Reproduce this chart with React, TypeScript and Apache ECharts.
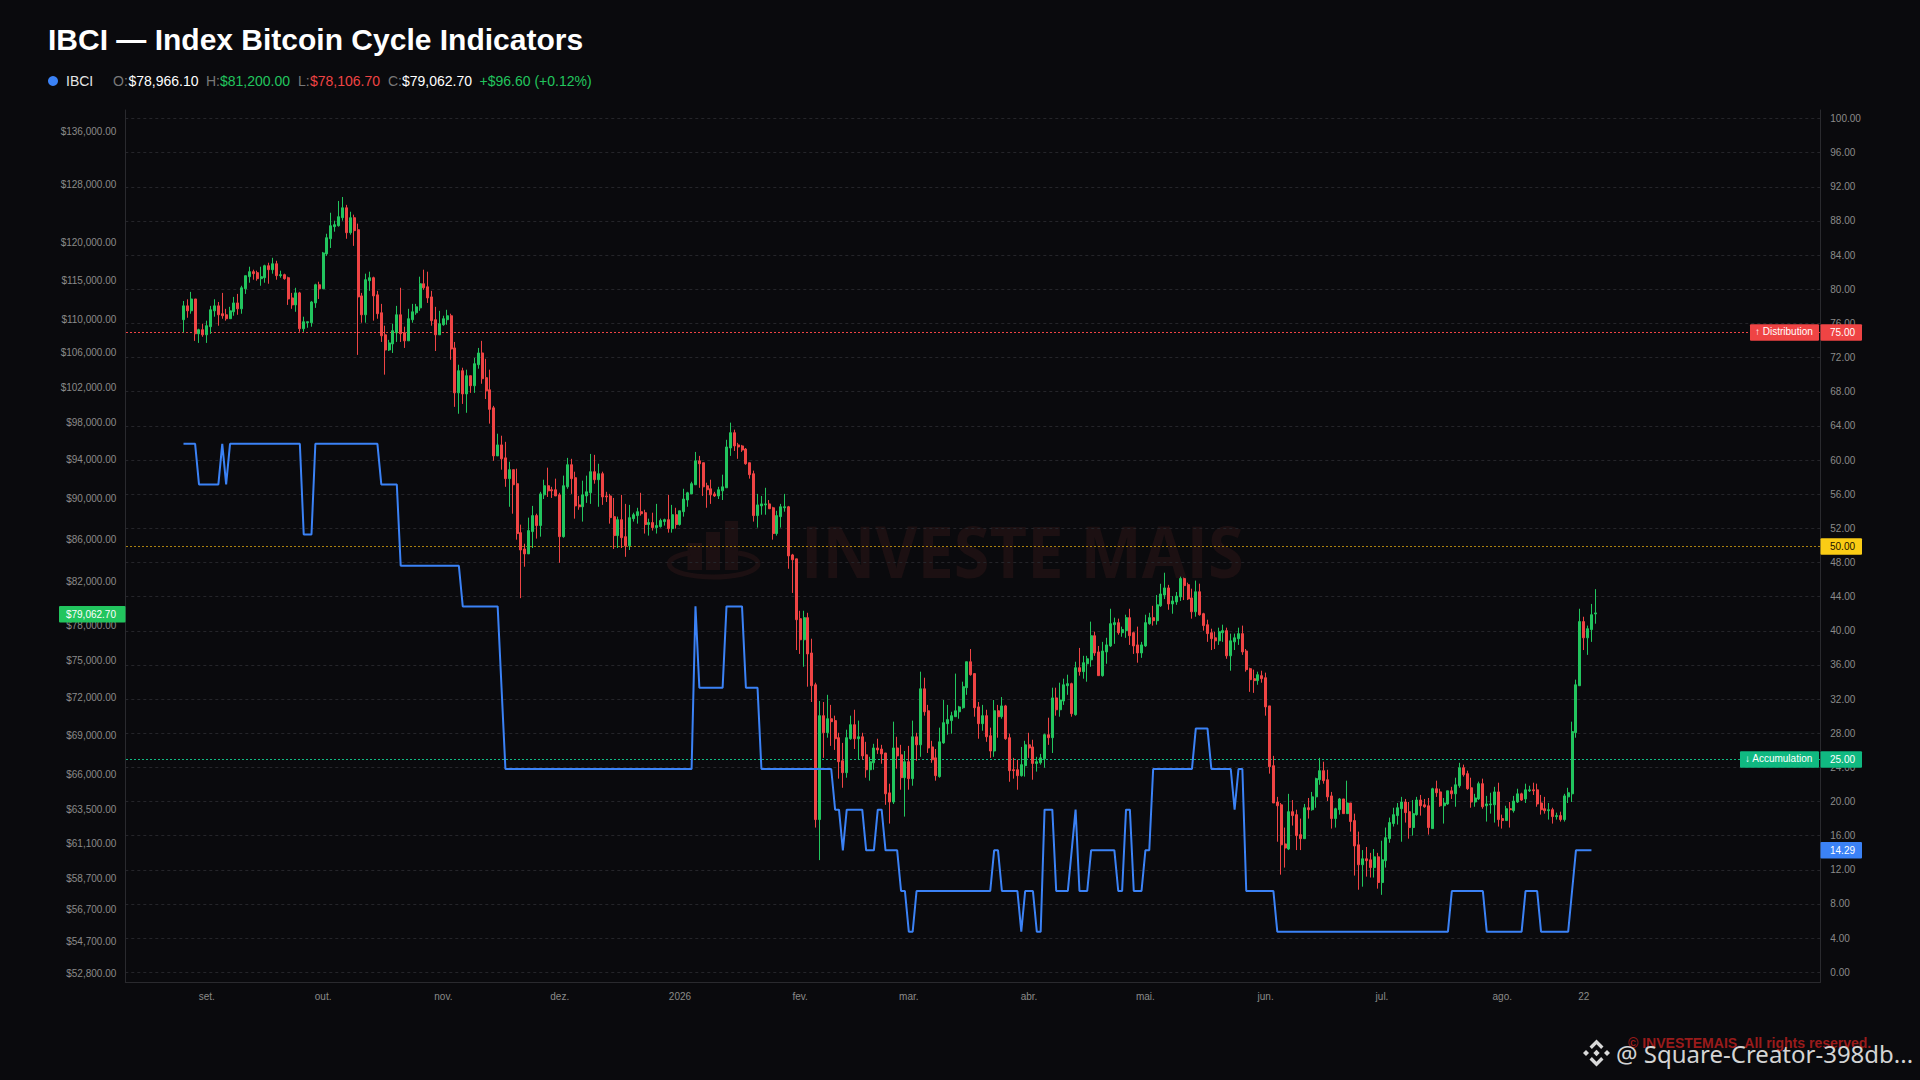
import React, { useEffect, useRef } from "react";
import * as echarts from "echarts";

const FONT = "'Liberation Sans', Arial, sans-serif";
const BG = "#0a0a0d";
const GREEN = "#22c55e";
const RED = "#ef4444";
const BLUE = "#3b82f6";
const TEAL = "#10b981";
const YELLOW = "#facc15";

const priceTicks = [136000,128000,120000,115000,110000,106000,102000,98000,94000,90000,86000,82000,78000,75000,72000,69000,66000,63500,61100,58700,56700,54700,52800];
const indexTicks = [0,4,8,12,16,20,24,28,32,36,40,44,48,52,56,60,64,68,72,76,80,84,88,92,96,100];
const dateLabels: Record<string,string> = {
  "2025-09-01":"set.","2025-10-01":"out.","2025-11-01":"nov.","2025-12-01":"dez.","2026-01-01":"2026","2026-02-01":"fev.","2026-03-01":"mar.","2026-04-01":"abr.","2026-05-01":"mai.","2026-06-01":"jun.","2026-07-01":"jul.","2026-08-01":"ago.","2026-08-22":"22",
};
const firstDate = "2025-08-11";
const categoryCount = 438;
const leadingEmptyDays = 15;
const lastPrice = 79062.7;
const lastIndex = 14.29;
const thresholds = [
  { value: 75, color: RED, line: "#ef4444", tag: "↑ Distribution", tagColor: RED, text: "#ffffff", tagWidth: 69 },
  { value: 50, color: YELLOW, line: "#a9800f", tag: "", tagColor: "", text: "#1a1300", tagWidth: 0 },
  { value: 25, color: TEAL, line: "#10b981", tag: "↓ Accumulation", tagColor: TEAL, text: "#ffffff", tagWidth: 79 },
];

// [open, close, low, high]
const candles: number[][] = [
[109900,111620,108340,112235],[111620,111005,110140,112445],[111005,112490,110640,113390],[112490,108180,107315,112490],[108180,108670,107070,108790],
[108670,108050,107810,109410],[108050,109160,107070,109780],[109040,111130,108180,111620],[111000,111620,110270,112450],[111620,110510,109160,112110],
[110640,110390,110020,113260],[110510,110020,109780,111250],[110020,111000,110020,111500],[110880,111990,110390,112750],[111990,111250,110510,113130],
[111250,113910,110640,114170],[113780,115470,113130,115470],[115340,115990,114560,116640],[115990,115730,114950,116250],[115860,115080,114820,116120],
[115080,115340,114170,116640],[115210,116770,114560,116900],[116770,116250,114430,117160],[116250,117030,115730,117810],[117030,115470,114950,117420],
[115470,115600,115210,116120],[115600,115080,114950,115730],[115210,112490,111740,115340],[112620,111740,111250,113260],[111740,113260,110880,113910],
[113260,108790,108420,113390],[108790,109650,108420,110270],[109530,109650,108910,109650],[109530,112110,109040,112240],[111990,114300,111370,114430],
[114300,113780,112490,114690],[113780,118460,113780,118590],[118330,120500,118070,121040],[120360,122140,119120,123930],[122010,122280,121320,122830],
[122140,123380,122010,125580],[123240,124620,122830,126140],[124620,121180,120360,125030],[121180,123240,120910,124070],[123240,121460,119400,123660],
[121590,112750,105640,122420],[112880,110510,109530,113260],[110510,114950,109530,115730],[114820,115210,113520,115990],[115210,112880,109780,115340],
[113010,110640,110020,113520],[110760,107930,107190,111870],[108050,106220,103320,109160],[106220,107070,106100,107440],[106950,108550,105870,109410],
[108300,110510,107190,111620],[110510,108180,107190,113910],[108300,107320,106470,109040],[107320,110020,107320,111250],[109900,110880,109530,111870],
[110760,111500,110510,111870],[111370,114430,111000,115340],[114430,113910,113650,116250],[114040,112620,111990,115990],[112750,109780,109160,113520],
[109900,108050,106100,111500],[108050,109410,108050,111000],[109280,110020,109160,110390],[109900,110390,109280,111130],[110390,106340,105060,110640],
[106470,101230,99650,107190],[101230,103780,98880,104480],[103780,101110,99980,104130],[101110,103200,98990,103900],[103200,102040,101230,103200],
[102040,104600,101230,105290],[104480,105870,104010,106470],[105870,102850,102270,107320],[102970,101460,100530,105180],[101580,99370,97790,103900],
[99540,94310,93790,99760],[94310,95480,94310,96690],[95480,94000,92860,96470],[94100,91930,91090,95810],[91930,92860,89070,93690],
[92860,91300,88380,92860],[91410,86430,85840,92960],[86520,84850,80380,87300],[84950,84480,83270,85450],[84480,86720,84480,87990],
[86620,88190,85040,89160],[88190,87210,85940,88380],[87210,90370,86130,90580],[90270,91200,89850,91820],[91200,90680,90060,93070],
[90790,90680,89960,91090],[90790,90160,90160,91930],[90270,86130,83640,90480],[86130,91200,86030,92240],[91090,93380,90890,94100],
[93380,91930,90370,94000],[92030,89160,87890,92650],[89260,89070,88770,90160],[89070,90270,87600,91720],[90160,90580,89460,92240],
[90480,92650,89360,94520],[92650,91820,91410,94420],[91820,92440,89070,93480],[92440,90060,89260,92650],[90160,90060,89550,90580],
[90160,87990,87400,90370],[88090,86230,84950,89960],[86230,87790,85040,88090],[87790,86030,85040,90270],[86130,85250,84200,89360],
[85250,87990,84850,89260],[87890,88280,87600,88480],[88190,88580,87400,88970],[88580,88380,88190,90480],[88480,87310,86430,88770],
[87310,87500,86230,87890],[87500,87010,86720,88480],[87010,87210,86430,89360],[87110,87700,87010,87890],[87600,87790,87210,87890],
[87790,86910,86520,90270],[86910,88280,86520,89260],[88280,87310,86910,88970],[87310,88670,87210,88670],[88580,89850,88090,90890],
[89750,90480,89070,90580],[90370,91410,90370,91610],[91300,93790,91300,94730],[93790,93480,90990,94310],[93590,91090,90160,93590],
[91200,90790,88970,91510],[90890,90270,89360,91820],[90370,90160,90060,90580],[90160,90790,89850,91090],[90680,91090,89750,92340],
[90990,95260,90990,96030],[95150,96800,94310,97900],[96800,95370,94830,97130],[95480,95260,94000,95700],[95370,94930,94730,95480],
[95040,93480,93380,95150],[93590,92340,91930,93590],[92440,88190,87600,92760],[88190,89260,87010,90370],[89160,89360,88280,90160],
[89260,89360,88280,90990],[89360,88870,88870,89750],[88970,86430,85840,89070],[86430,88190,86230,88670],[88090,89070,87010,89360],
[88970,89070,88580,90370],[89070,84290,83080,89160],[84380,83920,80850,84480],[84010,78460,75830,84010],[78550,76710,75500,79250],
[76710,78640,74420,79250],[78640,75500,72770,79070],[75580,72850,71530,76800],[72930,62680,62120,73100],[62680,70440,59890,71610],
[70440,69110,67180,71530],[69110,70200,68720,72110],[70200,69970,68090,71300],[70050,68640,67780,70440],[68720,66890,65630,69100],
[66960,66070,64960,68320],[66070,68720,65700,69340],[68640,69730,68560,70440],[69730,68640,67850,70910],[68640,68790,67040,70050],
[68790,67330,67040,69100],[67410,66290,65700,68400],[66290,66890,65480,67260],[66810,67930,66290,68250],[67930,67780,67480,68640],
[67850,67480,66740,68170],[67550,64520,63730,67550],[64590,63930,62400,65260],[63930,67930,63790,69970],[67930,67330,66370,68790],
[67410,65700,64820,68170],[65700,66890,62890,67700],[66890,65630,64820,68090],[65630,68790,65110,70050],[68790,68170,66960,69100],
[68170,72600,67260,74010],[72600,70750,70440,73510],[70830,67930,67550,71300],[68010,67040,66810,68480],[67180,65850,65480,67850],
[65780,68400,65700,69500],[68320,69890,68250,71690],[69810,70130,68950,71300],[70050,70440,69030,70750],[70360,70830,70360,73850],
[70750,71140,70200,71220],[71070,72770,70990,73180],[72690,74840,72110,74840],[74840,73760,73680,75920],[73850,71070,70360,73850],
[71140,69810,68640,71530],[69810,70440,69260,71300],[70440,68790,68400,70910],[68870,67700,67180,69500],[67700,70830,67260,71690],
[70830,70360,68720,71300],[70360,71220,70200,71930],[71220,68640,68560,71300],[68720,66220,65400,69030],[66290,66220,65630,67180],
[66290,65850,64820,67040],[65850,66670,65780,68010],[66590,68170,65780,68480],[68170,67930,67180,69100],[68010,66760,65550,68560],
[66760,66890,66150,67260],[66810,67180,66670,67480],[67110,68950,66440,69030],[68950,68720,68170,70280],[68720,71860,67550,72690],
[71860,70910,70440,72690],[70910,71690,70360,73100],[71610,72930,71300,73430],[72850,73020,72110,73760],[73020,70600,70360,73100],
[70520,74340,70440,74840],[74340,74010,73680,76010],[74010,74760,73430,75340],[74670,75090,73180,75340],[75000,77060,74420,78290],
[77060,75580,75340,77410],[75670,73680,73680,76180],[73680,75750,73600,76530],[75670,76270,74670,76880],[76180,78110,76100,79430],
[78020,78200,76360,78640],[78200,77320,77150,78550],[77320,77590,76970,77850],[77500,78640,76880,78900],[78640,77060,76270,79430],
[77320,76180,75500,77410],[76270,75580,74760,77850],[75580,76270,75170,76530],[76180,78200,76100,78900],[78110,78640,78020,79070],
[78640,78370,77940,79690],[78370,79780,78020,80660],[79690,80760,79600,81690],[80660,81310,80300,82710],[81310,79860,79340,81590],
[79860,80130,78990,80570],[80040,80570,79780,80940],[80490,82170,80130,82350],[82170,81520,80210,82260],[81610,80310,80210,81790],
[80400,79160,78550,81240],[79160,80960,78720,81980],[80960,78900,78810,81700],[78990,77940,77500,79070],[78020,77240,76530,78460],
[77320,76800,75830,77670],[76880,76620,75920,77410],[76620,77410,76270,77760],[77320,77500,76530,78020],[77500,75340,75090,77760],
[75340,76620,74090,77240],[76530,76880,75830,77240],[76800,77240,76270,77760],[77240,75670,75420,77940],[75750,74180,74010,75920],
[74260,73350,72350,74340],[73430,73270,72270,74180],[73270,73760,72930,74010],[73680,73430,73100,74090],[73510,71140,70440,73930],
[71220,66520,66000,71220],[66590,63860,63860,67330],[63930,63660,61140,64300],[63730,60930,58920,63860],[60990,60710,59390,62120],
[60640,63240,60570,64520],[63240,62960,62260,64070],[63030,61560,60570,63380],[61630,61350,60570,62750],[61350,63520,61350,63790],
[63520,63380,62750,64220],[63380,64300,63310,64660],[64300,65630,63520,65700],[65550,66220,65180,67180],[66220,65480,65260,66890],
[65550,64300,64000,66290],[64370,62750,62050,64660],[62750,63450,62120,63520],[63380,64150,63030,64220],[64150,63100,63100,64150],
[63100,63860,63100,65480],[63860,62540,61840,63860],[62610,60850,58860,63100],[60930,59580,57930,61840],[59580,59980,58130,60570],
[59980,59850,58790,60780],[59910,59390,58730,60380],[59390,60110,58730,60640],[60110,58400,58000,60380],[58400,59910,57600,61210],
[59850,61420,59390,62120],[61350,62470,61070,62820],[62400,63030,62190,63520],[62960,63520,62330,63860],[63450,63930,61140,64300],
[63930,63170,62470,64150],[63240,62120,61350,63930],[62120,63100,61560,64070],[63030,64070,62960,64300],[64070,63660,62960,64440],
[63730,63590,63520,64150],[63660,62120,61630,64220],[62050,64890,62050,64960],[64890,64600,64300,65480],[64660,63660,63590,64890],
[63660,63860,62400,64220],[63790,64740,63730,64740],[64740,64520,64150,65030],[64520,65180,63590,65700],[65110,66440,64960,66810],
[66440,65920,65780,66670],[66000,64890,64810,66220],[64960,63930,63520,65700],[63930,64220,63590,64520],[64150,65260,64070,65410],
[65260,63590,63450,65630],[63660,63790,62540,64370],[63730,63790,63100,64600],[63730,64660,62470,65030],[64660,62680,62190,65330],
[62750,62610,62050,63030],[62610,63450,62610,63660],[63450,63380,62120,63930],[63310,64000,63170,64370],[63930,64520,63860,64890],
[64520,64070,64000,64600],[64150,64810,63860,65260],[64740,64810,64660,65110],[64810,64740,64440,65330],[64810,63790,63590,65260],
[63860,63380,63030,64440],[63450,63310,63100,64300],[63310,63380,62680,63860],[63380,62890,62400,63520],[62890,62960,62680,63170],
[62960,62680,62540,63240],[62680,64370,62540,64520],[64300,64600,63860,64960],[64520,69190,63930,69970],[69110,72930,68720,73350],
[72850,78290,72850,79430],[78290,76880,75830,78720],[76880,77670,75420,77940],[77590,78900,76530,79860],[78966.1,79062.7,78106.7,81200],
];

// [level, number of consecutive days]
const indicatorRuns: number[][] = [
[61.9,4],[57.14,6],[61.9,1],[57.14,1],[61.9,19],[51.28,3],[61.9,17],[57.14,5],[47.62,16],[42.86,10],[33.33,1],[23.81,49],
[42.86,1],[33.33,7],[42.86,5],[33.33,4],[23.81,19],[19.05,2],[14.29,1],[19.05,5],[14.29,3],[19.05,2],[14.29,4],[9.52,2],[4.76,2],
[9.52,20],[14.29,2],[9.52,5],[4.76,1],[9.52,3],[4.76,2],[19.05,3],[9.52,4],[14.29,1],[19.05,1],[9.52,3],[14.29,7],[9.52,2],[19.05,2],
[9.52,3],[14.29,2],[23.81,11],[28.57,4],[23.81,6],[19.05,1],[23.81,2],[9.52,8],[4.76,45],[9.52,9],[4.76,10],[9.52,4],[4.76,8],[9.52,1],[14.29,5],
];

const legendParts = [
  { x: 113, text: "O:", color: "#787878" }, { x: 128.5, text: "$78,966.10", color: "#ffffff" },
  { x: 206, text: "H:", color: "#787878" }, { x: 220, text: "$81,200.00", color: GREEN },
  { x: 298, text: "L:", color: "#787878" }, { x: 310, text: "$78,106.70", color: RED },
  { x: 388, text: "C:", color: "#787878" }, { x: 402, text: "$79,062.70", color: "#ffffff" },
  { x: 479.5, text: "+$96.60 (+0.12%)", color: GREEN },
];

const money = (v: number) => "$" + v.toLocaleString("en-US", { minimumFractionDigits: 2, maximumFractionDigits: 2 });

function buildCategories() {
  const out: string[] = [];
  const d = new Date(firstDate + "T00:00:00Z");
  for (let i = 0; i < categoryCount; i++) {
    out.push(d.toISOString().slice(0, 10));
    d.setUTCDate(d.getUTCDate() + 1);
  }
  return out;
}

function expandRuns(runs: number[][]) {
  const out: number[] = [];
  runs.forEach(([v, n]) => { for (let i = 0; i < n; i++) out.push(v); });
  return out;
}

const WM = "#1c1012";
const LOGO = "#d9d9d9";

function staticGraphics() {
  const wmBars = [[687.5, 543, 14.5, 27], [706, 532, 14, 38], [725, 521, 13, 49]].map(([x, y, width, height]) => ({
    type: "rect", z: -1, silent: true, shape: { x, y, width, height }, style: { fill: WM },
  }));
  const cx = 1596.5, cy = 1053;
  const poly = (pts: number[][]) => ({ type: "polygon", z: 50, silent: true, shape: { points: pts.map(([a, b]) => [cx + a, cy + b]) }, style: { fill: LOGO } });
  const diamond = (a: number, b: number, r: number) => poly([[a, b - r], [a + r, b], [a, b + r], [a - r, b]]);
  return [
    { type: "text", z: 50, silent: true, x: 48, y: 39, style: { text: "IBCI — Index Bitcoin Cycle Indicators", fill: "#ffffff", font: `bold 30px ${FONT}`, verticalAlign: "middle" } },
    { type: "circle", z: 50, silent: true, shape: { cx: 53, cy: 81, r: 5 }, style: { fill: BLUE } },
    { type: "text", z: 50, silent: true, x: 66, y: 80.5, style: { text: "IBCI", fill: "#e5e5e5", font: `14px ${FONT}`, verticalAlign: "middle" } },
    ...legendParts.map((p) => ({ type: "text", z: 50, silent: true, x: p.x, y: 80.5, style: { text: p.text, fill: p.color, font: `14px ${FONT}`, verticalAlign: "middle" } })),
    ...wmBars,
    { type: "bezierCurve", z: -1, silent: true, shape: { x1: 690, y1: 553, x2: 713, y2: 577, cpx1: 656, cpy1: 558, cpx2: 664, cpy2: 577 }, style: { stroke: WM, lineWidth: 5, fill: "none" } },
    { type: "bezierCurve", z: -1, silent: true, shape: { x1: 713, y1: 577, x2: 738, y2: 553, cpx1: 762, cpy1: 577, cpx2: 772, cpy2: 558 }, style: { stroke: WM, lineWidth: 5, fill: "none" } },
    { type: "text", z: -1, silent: true, x: 801, y: 550, scaleX: 0.902, style: { text: "INVESTE MAIS", fill: WM, font: `bold 72px 'Open Sans', sans-serif`, verticalAlign: "middle" } },
    { type: "text", z: 50, silent: true, x: 1628, y: 1043, style: { text: "© INVESTEMAIS. All rights reserved.", fill: "#991b1b", font: `bold 14px ${FONT}`, verticalAlign: "middle" } },
    diamond(0, 0, 3.2), diamond(-10.5, 0, 3), diamond(10.5, 0, 3),
    poly([[0, -13.5], [7, -6.5], [4.6, -4.1], [0, -8.7], [-4.6, -4.1], [-7, -6.5]]),
    poly([[0, 13.5], [7, 6.5], [4.6, 4.1], [0, 8.7], [-4.6, 4.1], [-7, 6.5]]),
    { type: "text", z: 50, silent: true, x: 1616, y: 1053, style: { text: "@ Square-Creator-398db...", fill: "#d4d4d4", font: `24px 'Noto Sans', sans-serif`, verticalAlign: "middle" } },
  ];
}

const PILL_L = 1820.5, PILL_W = 41.5, TAG_R = 1819, PILL_H = 16.6;

function tagGraphics(chart: any) {
  const out: any[] = [];
  const pill = (y: number, color: string, label: string, fg: string) => {
    out.push({ type: "rect", z: 60, silent: true, shape: { x: PILL_L, y: y - PILL_H / 2, width: PILL_W, height: PILL_H, r: 1 }, style: { fill: color } });
    out.push({ type: "text", z: 61, silent: true, x: 1830, y, style: { text: label, fill: fg, font: `10px ${FONT}`, verticalAlign: "middle" } });
  };
  thresholds.forEach((t) => {
    const y = Math.ceil(chart.convertToPixel({ yAxisIndex: 1 }, t.value) - 0.01) + 0.5;
    out.push({ type: "line", z: 2, silent: true, shape: { x1: 126, y1: y, x2: 1820, y2: y }, style: { stroke: t.line, lineWidth: 1, lineDash: [2, 2] } });
    pill(y, t.color, t.value.toFixed(2), t.text);
    if (t.tag) {
      out.push({ type: "rect", z: 60, silent: true, shape: { x: TAG_R - t.tagWidth, y: y - PILL_H / 2, width: t.tagWidth, height: PILL_H, r: 1 }, style: { fill: t.tagColor } });
      out.push({ type: "text", z: 61, silent: true, x: TAG_R - t.tagWidth + 5, y: y - 0.7, style: { text: t.tag, fill: "#ffffff", font: `10px ${FONT}`, verticalAlign: "middle" } });
    }
  });
  pill(chart.convertToPixel({ yAxisIndex: 1 }, lastIndex), BLUE, lastIndex.toFixed(2), "#ffffff");
  const py = chart.convertToPixel({ yAxisIndex: 0 }, lastPrice) + 1.4;
  out.push({ type: "rect", z: 60, silent: true, shape: { x: 59, y: py - PILL_H / 2, width: 66.5, height: PILL_H, r: 1 }, style: { fill: GREEN } });
  out.push({ type: "text", z: 61, silent: true, x: 116, y: py, style: { text: money(lastPrice), fill: "#ffffff", font: `10px ${FONT}`, align: "right", verticalAlign: "middle" } });
  return out;
}

export default function App() {
  const ref = useRef<HTMLDivElement>(null);
  useEffect(() => {
    document.body.style.margin = "0";
    document.body.style.background = BG;
    const chart = echarts.init(ref.current!, undefined, { renderer: "svg" });
    const categories = buildCategories();
    const emptyRows = new Array(leadingEmptyDays).fill(["-", "-", "-", "-"]);
    const emptyPoints = new Array(leadingEmptyDays).fill("-");
    const axisLine = { show: true, onZero: false, lineStyle: { color: "#2a2a2e", width: 1 } };
    const labelStyle = { color: "#8a8a8a", fontSize: 10, fontFamily: FONT };
    const option: any = {
      animation: false,
      backgroundColor: BG,
      grid: { left: 125.3, right: 99.7, top: 110, height: 872.5, containLabel: false },
      tooltip: { show: false },
      xAxis: {
        type: "category",
        data: categories,
        boundaryGap: false,
        axisLine,
        axisTick: { show: false },
        splitLine: { show: false },
        axisLabel: {
          ...labelStyle,
          margin: 9,
          interval: (_i: number, v: string) => !!dateLabels[v],
          formatter: (v: string) => dateLabels[v] || "",
        },
      },
      yAxis: [
        {
          type: "log",
          min: 52198,
          max: 139090,
          position: "left",
          axisLine,
          axisTick: { show: false, customValues: priceTicks },
          splitLine: { show: false },
          axisLabel: { ...labelStyle, margin: 9, verticalAlign: "top", lineHeight: 2, customValues: priceTicks, formatter: (v: number) => money(v) },
        },
        {
          type: "value",
          min: -1.195,
          max: 101,
          position: "right",
          axisLine,
          axisTick: { show: false, customValues: indexTicks },
          splitLine: { show: true, lineStyle: { color: "#25252a", type: [3, 3], width: 1 } },
          axisLabel: { ...labelStyle, margin: 10, customValues: indexTicks, formatter: (v: number) => v.toFixed(2) },
        },
      ],
      series: [
        {
          type: "candlestick",
          yAxisIndex: 0,
          z: 3,
          barWidth: 2.5,
          silent: true,
          itemStyle: { color: GREEN, color0: RED, borderColor: GREEN, borderColor0: RED, borderWidth: 1 },
          data: [...emptyRows, ...candles],
        },
        {
          type: "line",
          yAxisIndex: 1,
          z: 5,
          showSymbol: false,
          symbol: "none",
          silent: true,
          lineStyle: { color: BLUE, width: 2 },
          data: [...emptyPoints, ...expandRuns(indicatorRuns)],
        },
      ],
    };
    chart.setOption(option);
    chart.setOption({ graphic: { elements: [...staticGraphics(), ...tagGraphics(chart)] } });
    return () => chart.dispose();
  }, []);
  return <div ref={ref} style={{ width: 1920, height: 1080 }} />;
}
